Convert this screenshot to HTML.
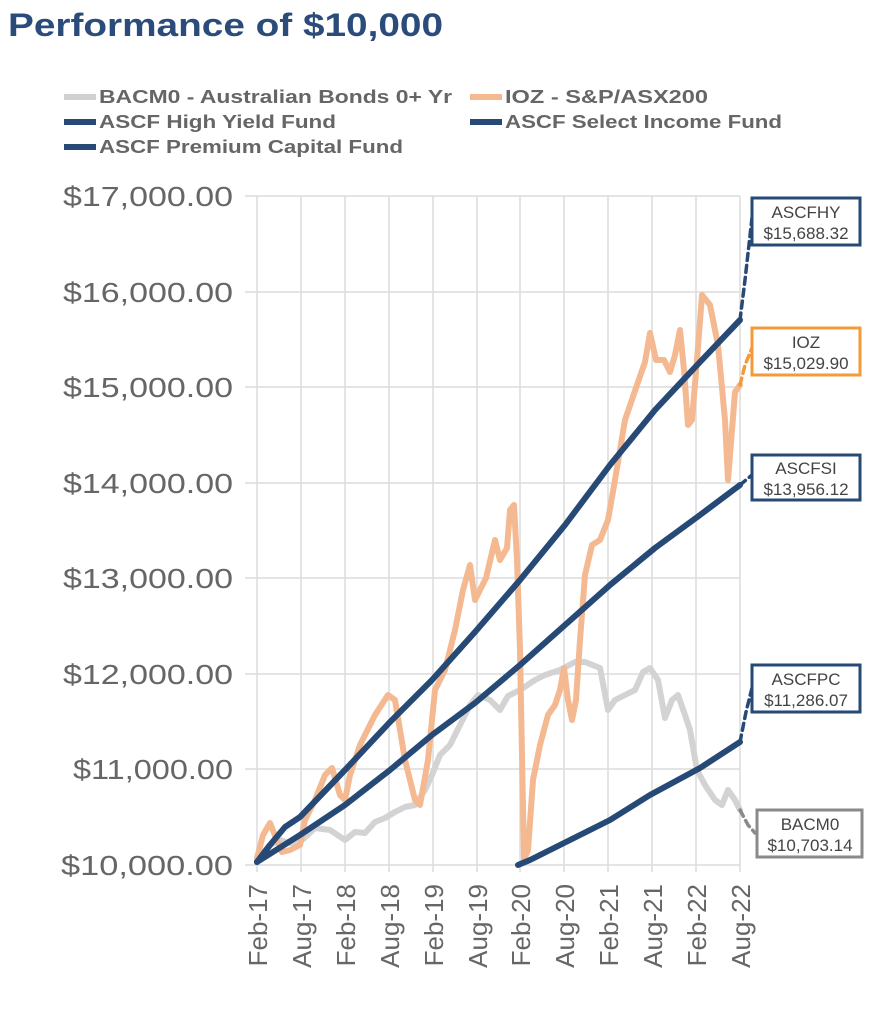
<!DOCTYPE html>
<html><head><meta charset="utf-8"><style>
body{margin:0;background:#fff;width:871px;height:1024px;overflow:hidden;font-family:"Liberation Sans",sans-serif}
</style></head><body>
<svg width="871" height="1024" xmlns="http://www.w3.org/2000/svg" font-family="Liberation Sans, sans-serif">
<text x="8" y="36" font-size="32" font-weight="bold" fill="#2b4c7a" textLength="435" lengthAdjust="spacingAndGlyphs">Performance of $10,000</text>
<g font-size="18" font-weight="bold" fill="#666">
<line x1="64" y1="97" x2="96" y2="97" stroke="#d0d0d0" stroke-width="6"/><text x="99" y="103" textLength="353" lengthAdjust="spacingAndGlyphs">BACM0 - Australian Bonds 0+ Yr</text>
<line x1="470" y1="97" x2="502" y2="97" stroke="#f4b990" stroke-width="6"/><text x="505" y="103" textLength="203" lengthAdjust="spacingAndGlyphs">IOZ - S&amp;P/ASX200</text>
<line x1="64" y1="122" x2="96" y2="122" stroke="#264a75" stroke-width="6"/><text x="99" y="128" textLength="237" lengthAdjust="spacingAndGlyphs">ASCF High Yield Fund</text>
<line x1="470" y1="122" x2="502" y2="122" stroke="#264a75" stroke-width="6"/><text x="505" y="128" textLength="277" lengthAdjust="spacingAndGlyphs">ASCF Select Income Fund</text>
<line x1="64" y1="147" x2="96" y2="147" stroke="#264a75" stroke-width="6"/><text x="99" y="153" textLength="304" lengthAdjust="spacingAndGlyphs">ASCF Premium Capital Fund</text>
</g>
<g stroke="#dcdcdc" stroke-width="1.5">
<line x1="245" y1="196" x2="740" y2="196"/><line x1="245" y1="292" x2="740" y2="292"/><line x1="245" y1="387" x2="740" y2="387"/><line x1="245" y1="483" x2="740" y2="483"/><line x1="245" y1="578" x2="740" y2="578"/><line x1="245" y1="674" x2="740" y2="674"/><line x1="245" y1="769" x2="740" y2="769"/><line x1="245" y1="865" x2="740" y2="865"/>
<line x1="257" y1="196" x2="257" y2="872"/><line x1="301" y1="196" x2="301" y2="872"/><line x1="345" y1="196" x2="345" y2="872"/><line x1="389" y1="196" x2="389" y2="872"/><line x1="433" y1="196" x2="433" y2="872"/><line x1="477" y1="196" x2="477" y2="872"/><line x1="520" y1="196" x2="520" y2="872"/><line x1="564" y1="196" x2="564" y2="872"/><line x1="608" y1="196" x2="608" y2="872"/><line x1="652" y1="196" x2="652" y2="872"/><line x1="696" y1="196" x2="696" y2="872"/><line x1="740" y1="196" x2="740" y2="872"/>
</g>
<g font-size="28" fill="#666" text-anchor="end">
<text x="233" y="206" textLength="170" lengthAdjust="spacingAndGlyphs">$17,000.00</text><text x="233" y="302" textLength="170" lengthAdjust="spacingAndGlyphs">$16,000.00</text><text x="233" y="397" textLength="170" lengthAdjust="spacingAndGlyphs">$15,000.00</text><text x="233" y="493" textLength="170" lengthAdjust="spacingAndGlyphs">$14,000.00</text><text x="233" y="588" textLength="170" lengthAdjust="spacingAndGlyphs">$13,000.00</text><text x="233" y="684" textLength="170" lengthAdjust="spacingAndGlyphs">$12,000.00</text><text x="233" y="779" textLength="160" lengthAdjust="spacingAndGlyphs">$11,000.00</text><text x="233" y="875" textLength="172" lengthAdjust="spacingAndGlyphs">$10,000.00</text>
</g>
<g font-size="26" fill="#666" text-anchor="end">
<text transform="translate(267,884) rotate(-90)">Feb-17</text><text transform="translate(311,884) rotate(-90)">Aug-17</text><text transform="translate(355,884) rotate(-90)">Feb-18</text><text transform="translate(399,884) rotate(-90)">Aug-18</text><text transform="translate(443,884) rotate(-90)">Feb-19</text><text transform="translate(487,884) rotate(-90)">Aug-19</text><text transform="translate(530,884) rotate(-90)">Feb-20</text><text transform="translate(574,884) rotate(-90)">Aug-20</text><text transform="translate(618,884) rotate(-90)">Feb-21</text><text transform="translate(662,884) rotate(-90)">Aug-21</text><text transform="translate(706,884) rotate(-90)">Feb-22</text><text transform="translate(750,884) rotate(-90)">Aug-22</text>
</g>
<g fill="none" stroke-linejoin="round" stroke-linecap="round">
<polyline stroke="#d3d3d3" stroke-width="6" points="257,860 270,845 280,840 290,843 300,842 315,828 330,830 345,840 355,832 365,833 375,822 385,818 395,812 405,807 415,805 425,790 432,775 440,755 450,745 460,725 470,705 478,695 490,700 500,710 508,696 520,690 535,680 545,675 560,670 575,662 585,662 600,668 608,710 615,700 625,695 635,690 643,672 650,668 658,680 665,718 672,700 678,695 685,715 690,730 697,770 705,785 715,800 722,805 728,790 735,800 740,810"/>
<polyline stroke="#f4b990" stroke-width="6" points="257,858 263,835 270,823 276,838 282,852 290,850 300,845 305,820 315,800 325,775 332,768 340,795 345,800 350,775 360,745 375,715 388,695 395,700 405,760 415,800 420,805 428,760 435,690 445,670 455,630 463,590 470,565 475,600 480,590 486,578 495,540 500,560 507,548 510,510 514,505 517,560 520,650 524,860 528,850 533,780 540,745 548,715 555,705 560,690 564,668 568,700 572,720 576,700 580,640 585,575 592,545 600,540 608,520 615,480 625,420 637,385 645,362 650,333 656,360 664,360 670,372 675,355 680,330 684,370 688,425 692,420 697,360 702,295 710,305 718,345 725,420 728,480 732,430 735,392 740,385"/>
<polyline stroke="#264a75" stroke-width="6" points="257,862 270,845 285,827 300,817 345,770 390,722 432,680 475,632 520,580 565,525 610,465 655,410 700,362 740,320"/>
<polyline stroke="#264a75" stroke-width="6" points="257,862 300,835 345,805 390,770 432,735 475,703 520,665 565,625 610,585 655,548 700,515 740,485"/>
<polyline stroke="#264a75" stroke-width="6" points="518,865 530,860 570,840 610,820 650,795 700,768 740,742"/>
<g stroke-width="3.5" stroke-dasharray="7,5">
<polyline stroke="#264a75" points="740,320 745,280 752,218"/>
<polyline stroke="#f39a3c" points="740,385 745,365 752,348"/>
<polyline stroke="#264a75" points="740,485 752,475"/>
<polyline stroke="#264a75" points="740,742 746,712 752,688"/>
<polyline stroke="#8a8a8a" points="740,810 748,825 755,833"/>
</g>
</g>
<g font-size="17" fill="#444" text-anchor="middle" stroke-width="3">
<rect x="752" y="198" width="108" height="47" fill="#fff" stroke="#264a75"/><text x="806" y="218">ASCFHY</text><text x="806" y="239">$15,688.32</text>
<rect x="752" y="328" width="108" height="47" fill="#fff" stroke="#f39a3c"/><text x="806" y="348">IOZ</text><text x="806" y="369">$15,029.90</text>
<rect x="752" y="455" width="108" height="45" fill="#fff" stroke="#264a75"/><text x="806" y="474">ASCFSI</text><text x="806" y="495">$13,956.12</text>
<rect x="752" y="665" width="108" height="47" fill="#fff" stroke="#264a75"/><text x="806" y="685">ASCFPC</text><text x="806" y="706">$11,286.07</text>
<rect x="757" y="810" width="105" height="47" fill="#fff" stroke="#8a8a8a"/><text x="810" y="830">BACM0</text><text x="810" y="851">$10,703.14</text>
</g>
</svg>
</body></html>
